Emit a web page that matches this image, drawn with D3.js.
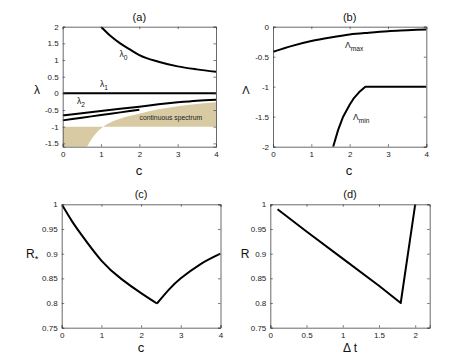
<!DOCTYPE html>
<html>
<head>
<meta charset="utf-8">
<script src="https://cdn.jsdelivr.net/npm/d3@7"></script>
<style>
body { margin: 0; background: #fff; }
svg { display: block; font-family: "Liberation Sans", Arial, sans-serif; }
</style>
</head>
<body>
<div id="chart"></div>
<script>
// panel (a): eigenvalues vs c
var cLam0 = [1, 1.25, 1.5, 1.75, 2, 2.5, 3, 3.5, 4];
var lam0 = [2.0, 1.72, 1.5, 1.32, 1.15, 0.95, 0.81, 0.72, 0.65];
var cLam1 = [0, 4];
var lam1 = [0, 0];
var cLam2a = [0, 0.5, 1, 1.5, 2, 2.5, 3, 3.5, 4];
var lam2a = [-0.66, -0.6, -0.53, -0.46, -0.4, -0.33, -0.27, -0.22, -0.19];
var cLam2b = [0, 0.5, 1, 1.5, 2];
var lam2b = [-0.81, -0.73, -0.65, -0.57, -0.49];
// continuous spectrum: between -1 and this edge
var cSpec = [0, 0.63, 0.7, 0.78, 0.87, 0.96, 1.06, 1.2, 1.4, 1.7, 2, 2.5, 3, 3.5, 4];
var specEdge = [-1.6, -1.6, -1.47, -1.33, -1.2, -1.09, -1.0, -0.9, -0.8, -0.69, -0.61, -0.48, -0.39, -0.32, -0.27];

// panel (b)
var cMax = [0, 0.5, 1, 1.5, 2, 2.5, 3, 3.5, 4];
var lamMax = [-0.42, -0.32, -0.24, -0.18, -0.13, -0.1, -0.075, -0.06, -0.045];
var cMin = [1.57, 1.7, 1.83, 2.0, 2.1, 2.25, 2.41, 4];
var lamMin = [-2, -1.72, -1.5, -1.3, -1.2, -1.09, -1, -1];

// panel (c), two branches meeting at the minimum
var cRleft = [0, 0.25, 0.5, 1, 1.5, 2, 2.4];
var rLeft = [1, 0.967, 0.938, 0.886, 0.849, 0.82, 0.799];
var cRright = [2.4, 2.7, 3, 3.5, 4];
var rRight = [0.799, 0.827, 0.85, 0.879, 0.9];

// panel (d)
var dt = [0.1, 0.5, 1, 1.5, 1.8, 1.9, 2.0];
var rD = [0.99, 0.945, 0.89, 0.835, 0.8, 0.9, 1.0];

var ticksA = [-1.5, -1, -0.5, 0, 0.5, 1, 1.5, 2];
var ticksB = [-2, -1.5, -1, -0.5, 0];
var ticksR = [0.75, 0.8, 0.85, 0.9, 0.95, 1];
var ticksC = [0, 1, 2, 3, 4];
var ticksDt = [0, 0.5, 1, 1.5, 2];

var svg = d3.select("#chart").append("svg")
    .attr("width", 474)
    .attr("height", 364);

function zip(xs, ys) {
    return xs.map(function(x, i) { return [x, ys[i]]; });
}

function fmt(v) {
    return String(v);
}

var clipN = 0;

function makePanel(p) {
    var x = d3.scaleLinear().domain(p.xd).range([p.left, p.right]);
    var y = d3.scaleLinear().domain(p.yd).range([p.bottom, p.top]);
    var id = "clip" + (clipN++);
    svg.append("clipPath").attr("id", id)
        .append("rect")
        .attr("x", p.left).attr("y", p.top)
        .attr("width", p.right - p.left).attr("height", p.bottom - p.top);
    var g = svg.append("g").attr("clip-path", "url(#" + id + ")");

    // axes, ticks pointing inward
    var ax = svg.append("g").attr("class", "axes");
    ax.append("g").attr("transform", "translate(0," + p.bottom + ")")
        .call(d3.axisBottom(x).tickValues(p.xt).tickSize(-2.5).tickPadding(5).tickFormat(fmt));
    ax.append("g").attr("transform", "translate(0," + p.top + ")")
        .call(d3.axisTop(x).tickValues(p.xt).tickSize(-2.5).tickFormat(""));
    ax.append("g").attr("transform", "translate(" + p.left + ",0)")
        .call(d3.axisLeft(y).tickValues(p.yt).tickSize(-2.5).tickPadding(4).tickFormat(fmt));
    ax.append("g").attr("transform", "translate(" + p.right + ",0)")
        .call(d3.axisRight(y).tickValues(p.yt).tickSize(-2.5).tickFormat(""));
    ax.selectAll(".domain").attr("stroke", "#444").attr("stroke-width", 0.8);
    ax.selectAll(".tick line").attr("stroke", "#444").attr("stroke-width", 0.7);
    ax.selectAll(".tick text").attr("font-size", 8).attr("fill", "#222")
        .attr("font-family", "Liberation Sans, Arial, sans-serif");

    // title
    svg.append("text")
        .attr("x", (p.left + p.right) / 2).attr("y", p.top - 6)
        .attr("text-anchor", "middle").attr("font-size", 11).attr("fill", "#111")
        .text(p.title);
    return { x: x, y: y, g: g };
}

function addLine(P, pts, curve) {
    P.g.append("path")
        .datum(pts)
        .attr("fill", "none")
        .attr("stroke", "#000")
        .attr("stroke-width", 2)
        .attr("stroke-linejoin", "round")
        .attr("d", d3.line().curve(curve || d3.curveMonotoneX)
            .x(function(d) { return P.x(d[0]); })
            .y(function(d) { return P.y(d[1]); }));
}

function subLabel(x, y, main, sub, size) {
    var t = svg.append("text").attr("x", x).attr("y", y)
        .attr("font-size", size).attr("fill", "#111");
    t.append("tspan").text(main);
    t.append("tspan").attr("dy", size * 0.35).attr("font-size", size * 0.78).text(sub);
    return t;
}

// ---- (a)
var A = makePanel({ left: 62.7, right: 216, top: 26.7, bottom: 146.7,
    xd: [0, 4], yd: [-1.6, 2], xt: ticksC, yt: ticksA, title: "(a)" });

A.g.insert("path", ":first-child")
    .datum(zip(cSpec, specEdge))
    .attr("fill", "#d8caa2")
    .attr("stroke", "none")
    .attr("d", d3.area().curve(d3.curveMonotoneX)
        .x(function(d) { return A.x(d[0]); })
        .y0(A.y(-1))
        .y1(function(d) { return A.y(d[1]); }));

addLine(A, zip(cLam0, lam0));
addLine(A, zip(cLam1, lam1));
addLine(A, zip(cLam2a, lam2a));
addLine(A, zip(cLam2b, lam2b));

svg.append("text").attr("x", 139.5).attr("y", 120)
    .attr("text-anchor", "start").attr("font-size", 6.8).attr("fill", "#222")
    .text("continuous spectrum");
subLabel(119.5, 57, "λ", "0", 8.5);
subLabel(100, 87, "λ", "1", 8.5);
subLabel(77, 104, "λ", "2", 8.5);

svg.append("text").attr("x", 139).attr("y", 175)
    .attr("text-anchor", "middle").attr("font-size", 13).attr("fill", "#111").text("c");
svg.append("text").attr("x", 37).attr("y", 94)
    .attr("text-anchor", "middle").attr("font-size", 12).attr("fill", "#111").text("λ");

// ---- (b)
var B = makePanel({ left: 273, right: 426.3, top: 26.7, bottom: 146.7,
    xd: [0, 4], yd: [-2, 0], xt: ticksC, yt: ticksB, title: "(b)" });
addLine(B, zip(cMax, lamMax));
addLine(B, zip(cMin, lamMin), d3.curveLinear);

subLabel(345, 48, "Λ", "max", 8.5);
subLabel(353, 120, "Λ", "min", 8.5);
svg.append("text").attr("x", 349).attr("y", 175)
    .attr("text-anchor", "middle").attr("font-size", 13).attr("fill", "#111").text("c");
svg.append("text").attr("x", 246).attr("y", 94)
    .attr("text-anchor", "middle").attr("font-size", 11).attr("fill", "#111").text("Λ");

// ---- (c)
var C = makePanel({ left: 61.7, right: 220.5, top: 204.3, bottom: 327.7,
    xd: [0, 4], yd: [0.75, 1], xt: ticksC, yt: ticksR, title: "(c)" });
addLine(C, zip(cRleft, rLeft), d3.curveNatural);
addLine(C, zip(cRright, rRight), d3.curveNatural);

subLabel(26, 258, "R", "*", 12);
svg.append("text").attr("x", 141).attr("y", 352)
    .attr("text-anchor", "middle").attr("font-size", 13).attr("fill", "#111").text("c");

// ---- (d)
var D = makePanel({ left: 270.3, right: 429.7, top: 204.3, bottom: 327.7,
    xd: [0, 2.2], yd: [0.75, 1], xt: ticksDt, yt: ticksR, title: "(d)" });
addLine(D, zip(dt, rD), d3.curveLinear);

svg.append("text").attr("x", 245).attr("y", 258)
    .attr("text-anchor", "middle").attr("font-size", 12).attr("fill", "#111").text("R");
svg.append("text").attr("x", 350).attr("y", 352)
    .attr("text-anchor", "middle").attr("font-size", 12).attr("fill", "#111").text("Δ t");
</script>
</body>
</html>
